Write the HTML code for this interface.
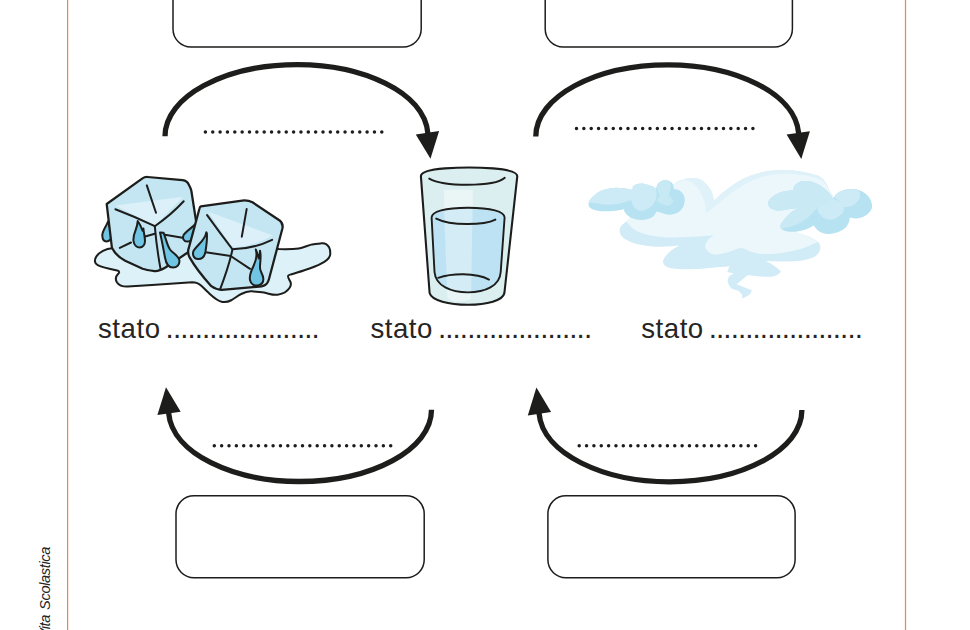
<!DOCTYPE html>
<html lang="it">
<head>
<meta charset="utf-8">
<title>Stati dell'acqua</title>
<style>
html,body{margin:0;padding:0;background:#fff;}
body{width:970px;height:630px;position:relative;overflow:hidden;font-family:"Liberation Sans",sans-serif;color:#1d1d1b;}
#art{position:absolute;left:0;top:0;width:970px;height:630px;display:block;}
.lbl{position:absolute;white-space:nowrap;font-size:29.5px;line-height:34px;height:34px;color:#262524;}
.lbl .w{font-size:27.6px;letter-spacing:0.55px;}
.lbl .d{letter-spacing:-0.9px;margin-left:-3.2px;}
#l1{left:98px;top:311.4px;}
#l2{left:370.4px;top:311.4px;}
#l3{left:641.2px;top:311.4px;}
#vs{position:absolute;left:53.2px;top:547px;transform-origin:0 0;transform:rotate(-90deg) translate(-100%,-100%);font-style:italic;font-size:14.7px;line-height:14.7px;letter-spacing:-0.4px;word-spacing:1.3px;white-space:nowrap;color:#262524;}
</style>
</head>
<body>
<svg id="art" viewBox="0 0 970 630" width="970" height="630">
<!-- page borders -->
<g id="borders" stroke="#f5833d" stroke-width="1.2">
<line x1="67.6" y1="0" x2="67.6" y2="630"/>
<line x1="905.5" y1="0" x2="905.5" y2="630"/>
</g>
<!-- answer boxes -->
<g id="boxes" fill="#fff" stroke="#1d1d1b" stroke-width="1.5">
<rect x="173" y="-35" width="248.2" height="82" rx="18" ry="18"/>
<rect x="545.2" y="-35" width="247.2" height="82" rx="18" ry="18"/>
<rect x="176" y="495.7" width="248.2" height="82" rx="18" ry="18"/>
<rect x="547.9" y="495.7" width="247.2" height="82" rx="18" ry="18"/>
</g>
<!-- arrows -->
<g id="arrows">
<g>
<path d="M165,136.3 C165,96.5 224.6,64.6 297.5,64.6 C362,64.6 424.3,91.8 427.9,133.4" fill="none" stroke="#1d1d1b" stroke-width="5.3"/>
<polygon points="415.8,134.4 439.1,131 430.5,158.8" fill="#1d1d1b"/>
</g>
<g transform="translate(370.8 0.2)">
<path d="M165,136.3 C165,96.5 224.6,64.6 297.5,64.6 C362,64.6 424.3,91.8 427.9,133.4" fill="none" stroke="#1d1d1b" stroke-width="5.3"/>
<polygon points="415.8,134.4 439.1,131 430.5,158.8" fill="#1d1d1b"/>
</g>
<g transform="rotate(180 298.25 273.05)">
<path d="M165,136.3 C165,96.5 224.6,64.6 297.5,64.6 C362,64.6 424.3,91.8 427.9,133.4" fill="none" stroke="#1d1d1b" stroke-width="5.3"/>
<polygon points="415.8,134.4 439.1,131 430.5,158.8" fill="#1d1d1b"/>
</g>
<g transform="translate(370.4 0.3) rotate(180 298.25 273.05)">
<path d="M165,136.3 C165,96.5 224.6,64.6 297.5,64.6 C362,64.6 424.3,91.8 427.9,133.4" fill="none" stroke="#1d1d1b" stroke-width="5.3"/>
<polygon points="415.8,134.4 439.1,131 430.5,158.8" fill="#1d1d1b"/>
</g>
</g>
<!-- dotted answer lines -->
<g id="dots" fill="none" stroke="#1d1d1b" stroke-width="3.5" stroke-linecap="round" stroke-dasharray="0 7.35">
<line x1="205.4" y1="132.1" x2="382.4" y2="132.1"/>
<line x1="576.5" y1="128.4" x2="755.5" y2="128.4"/>
<line x1="214.3" y1="445.8" x2="392" y2="445.8"/>
<line x1="579.2" y1="445.8" x2="757" y2="445.8"/>
</g>
<g id="ice" stroke="#1d1d1b" stroke-linejoin="round" stroke-linecap="round">
<!-- puddle -->
<path d="M112,248.2 C106,248.5 99,252.5 96.4,256.4 C94,260 94.5,263.5 97.7,265.2 C102,267.5 112,269.5 117.2,270.5 C119.5,271 119.8,272.5 118,274 C115.5,276.5 115.5,280 117,282.5 C119,285.5 123,286.8 127.9,286.6 L152,284.9 L192.2,282.2 C197,282.2 199.5,284 201.6,285.9 C204,288 206,290.5 208.3,292.6 C212,296 217,301 222.4,302 C226,302.5 229,301.5 231.8,300 C235,298 238,295.5 241.2,294 C245,292 248,291 251.9,291.3 C256,291.6 260,292.2 264,292.6 C269,293.5 273,295.5 277.4,294.7 C281,294 283.5,293.5 285.4,292 C289,289.5 291.5,287 290.8,283 C290.3,280.5 287.5,278 288.1,275.9 C288.5,274.8 289.5,274.8 290.8,274.5 C297,272.5 303,271 309.6,268.5 C315,266.5 320,264.5 324.3,261.8 C328,259.5 330.3,257 330.3,253.8 C330.3,250.5 329.8,248.5 329,247.1 C327,244 324.5,243 321.6,243.3 C318,243.6 315,243.8 312.2,244.4 C307,245.8 303,247.8 298.8,248.4 C292,249.5 285,249.3 278.7,249.1 L200,232 Z" fill="#dcf1f8" stroke-width="2"/>
<g transform="translate(0 1)">
<!-- drop behind cube 1 -->
<path d="M108,220.5 C106,226 102.2,230 102.3,234.5 C102.4,238 104,240.4 106.5,240.4 C109,240.4 112,238 112,234 Z" fill="#6fc5e3" stroke-width="2"/>
<!-- cube 1 -->
<path d="M106.7,203 L142.1,177.6 C144.5,176 146,175.9 147.6,176 L182.5,179.1 C186,179.5 188,181.5 188.9,183.9 C190,186 190.8,187.5 191.3,189.5 L196.2,221 L197,238 L190,250 L165.4,266.5 C162,268.5 158,270.5 154.7,270.1 C150,269.5 146,269 142.6,267.8 L125.2,259.8 C120,257 115,252.5 112.5,247.7 L111.9,246.6 Z" fill="#c4e6f3" stroke-width="2.25"/>
<path d="M115.6,204.6 L183.4,195.8 L158,221.5 C156,223.8 154,224.3 151.5,223 Z" fill="#dbf0f8" stroke="none"/>
<g fill="none" stroke-width="2">
<path d="M115.4,208.2 Q136,216 154.8,225.2 Q171,214 183.7,200.3"/>
<path d="M154.8,225.2 Q156.5,246 160.6,268.3"/>
<path d="M146.8,184.4 L156,211.7"/>
<path d="M119.8,246.9 L131,241.5 M145.2,235.5 L154.8,232.8 M162,233.2 L182.5,236.8"/>
</g>
<path d="M137.7,220 C137.5,226 134.8,230.5 133.9,234.5 C133.2,237.5 133.3,240 134,242 C135,244.8 137,246.4 139.5,246.4 C142.8,246.4 145,243.5 145,240 C145,236 143.8,232 143.4,227.6 L142.6,229.8 C141.5,226.5 139.8,223 137.7,220 Z" fill="#6fc5e3" stroke-width="2"/>
<path d="M160,231.6 C162,240 163.5,249 165,256.5 C166,262.5 168.5,266.6 173,266.6 C177,266.6 179.8,263.5 179.4,259.5 C179,255 172.5,252 170,248.5 C167,244 166,237.5 163.6,231.8 Z" fill="#6fc5e3" stroke-width="2"/>
</g>
<!-- drop between cubes -->
<path d="M196,223.5 C192,228 186,231 183.6,235 C182,238 183.6,241.6 187,241.6 C190,241.6 192.5,239.5 193.5,237 L199,226 Z" fill="#6fc5e3" stroke-width="2"/>
<!-- cube 2 -->
<path d="M200.9,206.4 L242.2,200.6 C246,200.2 249.5,200.8 252.5,202.3 L279.3,220.2 C282,222.3 283.2,225 282.4,228.5 L269,279 C268,282.5 266.5,284.8 263.9,285.6 C262,286.3 261,286.5 259,286.7 L221.6,289.8 C218,289.9 214.5,288.5 211.3,286.2 C203,277 195,267 189.6,257.4 C188.3,255 188,252.5 188.2,250.1 L199.5,208.5 C199.8,207.2 200.2,206.6 200.9,206.4 Z" fill="#c4e6f3" stroke-width="2.25"/>
<path d="M208.4,211.8 L272.6,235.4 C260,242.5 247,246.5 235.5,247 C233,247 231.5,246 230,244 Z" fill="#dbf0f8" stroke="none"/>
<g fill="none" stroke-width="2">
<path d="M207.1,215.1 Q220,233 232.5,249.3 Q253,249 272.1,239.8"/>
<path d="M232.5,249.3 Q229,266 220.1,289.3"/>
<path d="M246.7,208.9 L241.8,236.7"/>
<path d="M204,252 L230.7,256 L250,268.8"/>
</g>
<path d="M206.3,232.3 C205.5,240 197,245 193.7,250.5 C192,254 193.5,258.9 198,259.1 C202,259.3 204.6,256 205.4,252 C206.4,246 207.3,240 206.9,233.5 Z" fill="#6fc5e3" stroke-width="2"/>
<path d="M255.8,249.5 C257.6,256 256,261 253.5,266 C251,271 249,275 250,280 C251,284.6 254.5,286.1 258,285.4 C261.5,284.7 263.6,282 263.3,278.5 C262.9,274 260.2,272 260,268 C259.8,262 261.6,257 260,250.8 C259.8,254 259.4,256.5 258.8,258.5 C258,256 257,252 255.8,249.5 Z" fill="#6fc5e3" stroke-width="2"/>
</g>
<g id="glass" stroke-linejoin="round" stroke-linecap="round">
<path d="M420.9,176.2 C420.9,171.8 431,169.5 445,168.4 C453,167.8 461,167.5 469,167.5 C477,167.5 485,167.8 493,168.4 C507,169.5 517.3,171.8 517.3,176.2 L504.4,293 C503,300.5 487,304.7 468,304.7 C449,304.7 431.5,300.5 429.6,293 Z" fill="#dbeff1" stroke="none"/>
<path d="M443.7,189.8 L472.9,189.8 L471,297 C470.5,300.5 464,301.6 459,301.6 C453,301.6 447.6,300 447.3,296 Z" fill="#eaf5f6" stroke="none"/>
<path d="M431.6,217.5 C431.6,211.5 445,207.7 468,207.7 C491,207.7 504.6,211.5 504.6,217.5 L500.7,272 C499.9,286 485,292.4 468,292.4 C451,292.4 435.6,286 434.5,272 Z" fill="#bde2f3" stroke="none"/>
<path d="M444.1,209.2 C452,208 463,207.6 472.6,207.7 L471.2,292.3 C462,292.7 452,291.5 447,288.6 Z" fill="#d4ecf6" stroke="none"/>
<path d="M431.6,217.5 C431.6,211.5 445,207.7 468,207.7 C491,207.7 504.6,211.5 504.6,217.5 L500.7,272 C499.9,286 485,292.4 468,292.4 C451,292.4 435.6,286 434.5,272 Z" fill="none" stroke="#1d1d1b" stroke-width="1.9"/>
<path d="M420.9,176.2 C420.9,171.8 431,169.5 445,168.4 C453,167.8 461,167.5 469,167.5 C477,167.5 485,167.8 493,168.4 C507,169.5 517.3,171.8 517.3,176.2 L504.4,293 C503,300.5 487,304.7 468,304.7 C449,304.7 431.5,300.5 429.6,293 Z" fill="none" stroke="#1d1d1b" stroke-width="2.1"/>
<path d="M429.2,178.6 C437,183 452,184.8 467.5,184.8 C483,184.8 499,182.8 504.8,177.8" fill="none" stroke="#1d1d1b" stroke-width="1.9"/>
<path d="M436.2,218.6 C444,222.6 456,224 467.3,224 C478,224 489,222.8 495.4,219.6" fill="none" stroke="#1d1d1b" stroke-width="1.9"/>
<path d="M438.2,277.8 C446,275.2 455,274.2 463.5,274.3 C473,274.4 483,276.4 489,279.6" fill="none" stroke="#1d1d1b" stroke-width="1.9"/>
</g>
<g id="steam" stroke="none">
<path d="M626.6,221.5 C629.7,218.4 639.4,207.9 645.0,203.0 C650.6,198.1 655.1,195.2 660.0,192.0 C664.9,188.8 670.8,185.9 674.3,184.0 C677.8,182.1 678.5,181.3 681.0,180.3 C683.5,179.3 686.7,178.5 689.2,178.2 C691.7,177.9 694.0,178.3 696.0,178.6 C698.0,178.9 699.6,178.8 701.5,180.0 C703.4,181.2 705.8,183.5 707.5,185.5 C709.2,187.5 710.7,189.5 711.8,192.0 C712.9,194.5 713.6,199.2 714.0,200.7 C715.8,199.1 720.9,194.1 724.7,191.0 C728.6,187.9 733.0,184.8 737.1,182.3 C741.2,179.8 745.4,177.8 749.5,176.1 C753.6,174.4 757.8,173.1 761.9,172.2 C766.0,171.3 770.1,170.9 774.2,170.6 C778.3,170.3 782.5,170.1 786.6,170.2 C790.7,170.3 794.9,170.6 799.0,171.2 C803.1,171.8 807.8,172.8 811.3,173.7 C814.8,174.6 817.5,175.2 820.0,176.8 C822.5,178.4 824.4,180.7 826.0,183.0 C827.6,185.3 828.2,187.7 829.5,190.5 C830.8,193.3 833.9,195.9 834.0,200.0 C834.1,204.1 833.7,210.7 830.0,215.0 C826.3,219.3 817.5,223.2 812.0,226.0 C806.5,228.8 797.8,229.8 797.3,231.6 C796.8,233.4 805.4,234.9 808.8,236.6 C812.2,238.3 815.6,240.1 817.5,241.7 C819.4,243.3 820.1,244.2 820.3,246.0 C820.5,247.8 820.1,250.6 818.9,252.5 C817.7,254.4 816.0,256.3 813.1,257.6 C810.2,258.9 805.9,259.9 801.6,260.5 C797.3,261.1 792.0,261.4 787.2,261.5 C782.4,261.6 776.2,261.3 772.7,261.2 C769.2,261.1 767.3,260.9 766.2,260.9 C767.3,261.5 770.6,263.4 772.7,264.8 C774.8,266.2 777.3,268.1 778.6,269.3 C779.9,270.5 781.0,270.9 780.7,271.8 C780.5,272.7 778.9,274.1 777.1,274.9 C775.3,275.7 772.9,276.6 769.8,276.8 C766.7,277.0 762.0,276.6 758.3,276.3 C754.6,276.1 749.3,275.5 747.5,275.3 L736.6,284.3 L751.8,290.3 C751.4,291.0 751.3,293.0 749.6,294.4 C747.9,295.8 743.0,298.0 741.7,298.7 C741.8,298.1 742.7,296.4 742.1,295.1 C741.5,293.8 740.0,292.0 738.1,290.8 C736.2,289.6 732.6,289.5 730.9,287.9 C729.2,286.3 728.0,283.3 727.7,281.4 C727.5,279.5 728.4,277.6 729.4,276.3 C730.4,275.0 733.1,274.0 733.8,273.5 L727.3,272.0 L729.4,266.2 C727.3,266.4 722.3,266.7 716.8,267.2 C711.3,267.7 702.9,268.8 696.6,269.1 C690.4,269.4 684.1,269.4 679.3,269.1 C674.5,268.8 670.4,268.2 667.7,267.2 C665.1,266.2 664.0,264.8 663.4,263.3 C662.8,261.8 662.9,260.3 664.1,258.3 C665.3,256.3 668.1,253.2 670.6,251.1 C673.1,249.0 677.8,246.5 679.3,245.6 C675.7,245.8 664.3,247.0 657.6,246.8 C650.9,246.6 644.4,245.9 638.9,244.6 C633.4,243.3 627.6,240.9 624.4,238.8 C621.2,236.8 620.4,234.4 619.8,232.3 C619.2,230.2 619.7,228.3 620.8,226.5 C621.9,224.7 625.6,222.3 626.6,221.5 Z" fill="#d1ecf6"/>
<path d="M660.0,200.0 C662.4,197.3 670.8,187.3 674.3,184.0 C677.8,180.7 678.5,181.3 681.0,180.3 C683.5,179.3 686.7,178.5 689.2,178.2 C691.7,177.9 694.0,178.3 696.0,178.6 C698.0,178.9 699.6,178.8 701.5,180.0 C703.4,181.2 705.8,183.5 707.5,185.5 C709.2,187.5 710.7,189.5 711.8,192.0 C712.9,194.5 713.6,199.2 714.0,200.7 C715.8,199.1 720.9,194.1 724.7,191.0 C728.6,187.9 733.0,184.8 737.1,182.3 C741.2,179.8 745.4,177.8 749.5,176.1 C753.6,174.4 757.8,173.1 761.9,172.2 C766.0,171.3 770.1,170.9 774.2,170.6 C778.3,170.3 782.5,170.1 786.6,170.2 C790.7,170.3 794.9,170.6 799.0,171.2 C803.1,171.8 807.8,172.8 811.3,173.7 C814.8,174.6 817.5,175.2 820.0,176.8 C822.5,178.4 824.4,180.7 826.0,183.0 C827.6,185.3 828.2,187.7 829.5,190.5 C830.8,193.3 833.2,198.4 834.0,200.0 L800.0,215.0 L740.0,222.0 L690.0,215.0 L660.0,200.0 Z" fill="#e0f2f9"/>
<path d="M626.6,221.5 C629.2,218.8 636.4,209.9 642.0,205.0 C647.6,200.1 654.6,195.5 660.0,192.0 C665.4,188.5 671.0,186.0 674.3,184.2 C677.6,182.4 678.2,181.9 680.0,181.2 C681.8,180.5 683.2,180.1 685.0,180.2 C686.8,180.3 689.2,181.0 691.0,182.0 C692.8,183.0 694.5,184.4 696.0,186.0 C697.5,187.6 698.8,189.3 700.0,191.5 C701.2,193.7 702.6,196.6 703.5,199.0 C704.4,201.4 704.9,203.6 705.3,206.0 C705.7,208.4 705.9,212.1 706.0,213.3 C708.1,211.7 714.5,206.7 718.6,203.4 C722.8,200.1 726.8,196.5 730.9,193.5 C735.0,190.5 739.2,187.8 743.3,185.4 C747.4,183.0 751.6,180.8 755.7,179.2 C759.8,177.5 763.9,176.4 768.0,175.5 C772.1,174.6 776.3,174.2 780.4,173.9 C784.5,173.6 788.7,173.6 792.8,173.9 C796.9,174.2 801.7,174.9 805.2,175.5 C808.7,176.1 811.4,176.8 814.0,177.6 C816.6,178.4 819.0,179.1 821.0,180.3 C823.0,181.5 824.6,183.2 826.0,185.0 C827.4,186.8 828.2,188.5 829.5,191.0 C830.8,193.5 833.9,196.0 834.0,200.0 C834.1,204.0 833.7,210.7 830.0,215.0 C826.3,219.3 817.5,223.2 812.0,226.0 C806.5,228.8 797.8,229.8 797.3,231.6 C796.8,233.4 805.4,234.9 808.8,236.6 C812.2,238.3 816.0,240.8 817.5,241.7 C816.3,242.3 813.4,244.0 810.3,245.3 C807.2,246.6 803.8,248.3 798.7,249.6 C793.6,250.9 785.9,252.5 779.9,253.2 C773.9,253.9 767.4,254.2 762.6,254.0 C757.8,253.8 754.7,252.8 751.1,251.8 C747.5,250.8 744.6,247.9 741.0,247.9 C737.4,247.9 733.4,250.7 729.4,251.8 C725.4,252.9 720.1,254.5 716.8,254.7 C713.5,254.9 711.5,254.0 709.6,252.8 C707.7,251.6 705.8,249.3 705.3,247.5 C704.8,245.7 705.4,243.8 706.7,241.7 C708.0,239.6 712.1,236.3 713.2,235.2 C710.4,235.4 704.2,236.2 696.6,236.6 C689.0,237.0 676.1,237.8 667.7,237.4 C659.3,237.1 651.9,235.9 646.1,234.5 C640.3,233.1 636.4,230.9 633.1,228.7 C629.9,226.5 627.7,222.7 626.6,221.5 Z" fill="#ecf7fc"/>
<path d="M632.5,189.9 C632.7,189.2 632.3,186.7 633.7,185.6 C635.1,184.5 638.0,183.3 641.1,183.4 C644.2,183.5 649.8,185.3 652.3,186.2 C654.8,187.1 655.4,188.3 656.0,188.7 C656.4,187.8 657.0,184.5 658.5,183.1 C660.0,181.7 663.0,180.0 665.3,180.0 C667.6,180.0 670.7,181.5 672.1,183.1 C673.5,184.7 673.6,188.3 673.9,189.3 C674.8,189.5 677.8,189.4 679.5,190.6 C681.2,191.8 683.7,194.2 684.4,196.7 C685.1,199.2 684.8,202.8 683.8,205.4 C682.8,208.0 680.7,210.6 678.3,212.2 C675.9,213.8 672.5,214.6 669.6,214.7 C666.7,214.8 663.1,213.3 660.9,212.8 C658.7,212.3 657.3,211.8 656.6,211.6 C655.9,212.5 654.9,215.8 652.3,217.2 C649.7,218.6 644.8,220.0 641.1,220.0 C637.4,220.0 632.8,218.6 630.0,217.2 C627.2,215.8 625.3,212.9 624.4,211.6 C623.5,210.2 624.4,209.5 624.4,209.1 C622.6,209.4 618.1,210.7 613.9,211.0 C609.7,211.3 603.0,211.5 599.1,211.0 C595.2,210.5 592.1,209.0 590.4,207.9 C588.6,206.8 588.6,205.7 588.6,204.2 C588.6,202.7 588.8,201.1 590.5,199.0 C592.2,196.9 596.4,193.5 599.1,191.8 C601.9,190.1 604.3,189.7 607.0,189.0 C609.7,188.3 612.4,187.9 615.2,187.8 C618.0,187.7 621.1,188.0 624.0,188.3 C626.9,188.7 631.1,189.6 632.5,189.9 Z" fill="#b7e2f1"/>
<path d="M588.9,202.5 C589.2,201.8 589.3,200.3 591.0,198.5 C592.7,196.7 596.4,193.4 599.1,191.8 C601.8,190.2 604.3,189.7 607.0,189.0 C609.7,188.3 612.4,187.9 615.2,187.8 C618.0,187.7 621.1,188.0 624.0,188.3 C626.9,188.7 631.1,189.6 632.5,189.9 C632.3,190.9 631.8,194.3 631.5,196.0 C631.2,197.7 630.7,199.6 630.5,200.3 C628.8,200.9 623.8,202.8 620.0,203.6 C616.2,204.3 611.6,204.9 607.7,204.8 C603.8,204.7 599.6,203.6 596.5,203.2 C593.4,202.8 590.2,202.6 588.9,202.5 Z" fill="#cdebf6"/>
<path d="M632.5,189.9 C632.7,189.2 632.3,186.7 633.7,185.6 C635.1,184.5 638.0,183.3 641.1,183.4 C644.2,183.5 649.8,185.3 652.3,186.2 C654.8,187.1 655.4,188.3 656.0,188.7 C656.1,189.9 656.8,193.6 656.5,196.0 C656.2,198.4 655.4,200.8 654.1,202.9 C652.8,205.0 650.7,207.0 648.5,208.3 C646.3,209.7 643.3,210.9 641.1,211.0 C638.9,211.1 636.9,209.9 635.5,208.8 C634.1,207.7 633.3,206.2 632.5,204.2 C631.7,202.2 630.6,199.1 630.6,196.7 C630.6,194.3 632.2,191.0 632.5,189.9 Z" fill="#cdebf6"/>
<path d="M656.4,188.0 C656.8,187.2 657.0,184.4 658.5,183.1 C660.0,181.8 663.2,179.8 665.3,180.0 C667.3,180.2 670.1,182.4 670.8,184.4 C671.5,186.4 670.0,190.0 669.6,191.8 C669.2,193.7 668.6,194.9 668.4,195.5 C669.2,196.3 673.1,198.8 673.3,200.5 C673.5,202.2 671.5,204.8 669.6,205.4 C667.8,206.0 664.4,205.0 662.2,204.2 C660.0,203.3 657.3,201.0 656.3,200.3 C656.8,199.4 659.5,197.1 659.5,195.0 C659.5,192.9 656.9,189.2 656.4,188.0 Z" fill="#c7e9f4"/>
<path d="M793.4,189.9 C793.6,189.2 793.4,187.0 794.6,185.6 C795.8,184.2 798.3,182.3 800.8,181.6 C803.3,180.9 806.4,180.7 809.5,181.3 C812.6,181.9 816.3,183.2 819.4,185.0 C822.5,186.8 825.7,189.5 828.0,191.8 C830.3,194.1 832.2,197.5 833.0,198.6 C833.6,197.8 834.9,195.1 836.7,193.7 C838.6,192.2 841.2,190.7 844.1,189.9 C847.0,189.1 850.9,188.8 854.0,189.1 C857.1,189.4 860.1,190.3 862.7,191.8 C865.3,193.3 868.0,195.7 869.5,198.0 C871.0,200.3 871.9,203.1 872.0,205.4 C872.1,207.7 871.5,209.8 870.1,211.6 C868.8,213.4 866.2,215.4 863.9,216.5 C861.6,217.6 858.9,218.2 856.5,218.4 C854.1,218.6 850.8,217.9 849.7,217.8 C849.6,218.4 849.8,219.8 849.1,221.5 C848.4,223.2 847.5,225.8 845.4,227.7 C843.3,229.5 839.6,231.6 836.7,232.6 C833.8,233.6 830.9,234.1 828.0,233.9 C825.1,233.7 821.7,232.7 819.4,231.4 C817.1,230.2 815.3,227.4 814.4,226.4 C813.5,225.4 813.9,225.4 813.8,225.2 C812.7,225.8 809.8,227.9 807.0,228.9 C804.2,229.9 800.4,231.0 797.1,231.4 C793.8,231.8 789.8,231.8 787.2,231.4 C784.6,231.0 782.8,229.9 781.7,228.9 C780.6,227.9 779.9,226.8 780.4,225.2 C780.9,223.5 782.7,221.3 784.7,219.0 C786.7,216.7 789.9,213.4 792.2,211.6 C794.5,209.8 797.4,208.5 798.4,207.9 C797.0,208.1 793.0,208.5 789.7,208.9 C786.4,209.3 781.7,210.7 778.6,210.6 C775.5,210.5 772.9,209.8 771.1,208.5 C769.3,207.2 767.8,204.9 768.0,202.9 C768.2,200.9 770.0,198.5 772.4,196.7 C774.8,194.8 778.8,192.9 782.3,191.8 C785.8,190.7 791.5,190.2 793.4,189.9 Z" fill="#b7e2f1"/>
<path d="M793.4,189.9 C793.6,189.2 793.4,187.0 794.6,185.6 C795.8,184.2 798.3,182.3 800.8,181.6 C803.3,180.9 806.4,180.7 809.5,181.3 C812.6,181.9 816.3,183.2 819.4,185.0 C822.5,186.8 825.7,189.5 828.0,191.8 C830.3,194.1 832.2,197.5 833.0,198.6 C831.8,199.3 828.7,201.4 826.0,203.0 C823.3,204.6 818.4,207.1 816.9,207.9 L798.4,207.9 C797.0,208.1 793.0,208.5 789.7,208.9 C786.4,209.3 781.7,210.7 778.6,210.6 C775.5,210.5 772.9,209.8 771.1,208.5 C769.3,207.2 767.8,204.9 768.0,202.9 C768.2,200.9 770.0,198.5 772.4,196.7 C774.8,194.8 778.8,192.9 782.3,191.8 C785.8,190.7 791.5,190.2 793.4,189.9 Z" fill="#c9e9f4"/>
<path d="M798.4,207.9 L816.9,207.9 C815.8,209.1 813.6,212.5 810.5,215.2 C807.4,217.9 802.6,221.8 798.0,224.0 C793.4,226.2 785.2,227.8 782.6,228.6 C782.3,228.1 780.2,227.1 780.6,225.5 C781.0,223.9 782.8,221.3 784.7,219.0 C786.6,216.7 789.9,213.4 792.2,211.6 C794.5,209.8 797.4,208.5 798.4,207.9 Z" fill="#c9e9f4"/>
<path d="M816.9,207.9 C818.4,207.1 823.3,204.6 826.0,203.0 C828.7,201.4 831.8,199.3 833.0,198.6 C834.1,199.2 837.6,200.7 839.5,202.0 C841.4,203.3 843.3,205.8 844.1,206.6 C844.0,207.3 844.0,209.8 843.6,211.0 C843.2,212.2 842.8,213.0 841.7,214.1 C840.6,215.2 838.6,216.6 837.0,217.5 C835.4,218.4 833.6,219.3 831.8,219.6 C830.0,219.8 827.6,219.5 826.0,219.0 C824.4,218.5 823.1,217.6 821.9,216.5 C820.6,215.4 819.3,213.9 818.5,212.5 C817.7,211.1 817.2,208.7 816.9,207.9 Z" fill="#cdebf6"/>
<path d="M834.2,196.7 C834.8,196.0 836.4,193.6 838.0,192.5 C839.6,191.4 841.4,190.5 844.1,189.9 C846.8,189.3 851.4,188.8 854.0,189.1 C856.6,189.4 858.7,191.4 859.6,191.8 C859.7,192.4 860.1,194.3 860.0,195.5 C859.9,196.7 860.0,197.6 859.0,199.2 C858.0,200.8 855.7,203.6 854.0,204.8 C852.3,206.0 850.6,206.2 849.0,206.6 C847.4,207.0 844.9,207.2 844.1,207.3 C843.3,206.4 841.1,203.8 839.5,202.0 C837.9,200.2 835.1,197.6 834.2,196.7 Z" fill="#cdebf6"/>
</g>
</svg>
<div class="lbl" id="l1"><span class="w">stato</span> <span class="d">.....................</span></div>
<div class="lbl" id="l2"><span class="w">stato</span> <span class="d">.....................</span></div>
<div class="lbl" id="l3"><span class="w">stato</span> <span class="d">.....................</span></div>
<div id="vs">La Vita Scolastica</div>
</body>
</html>
